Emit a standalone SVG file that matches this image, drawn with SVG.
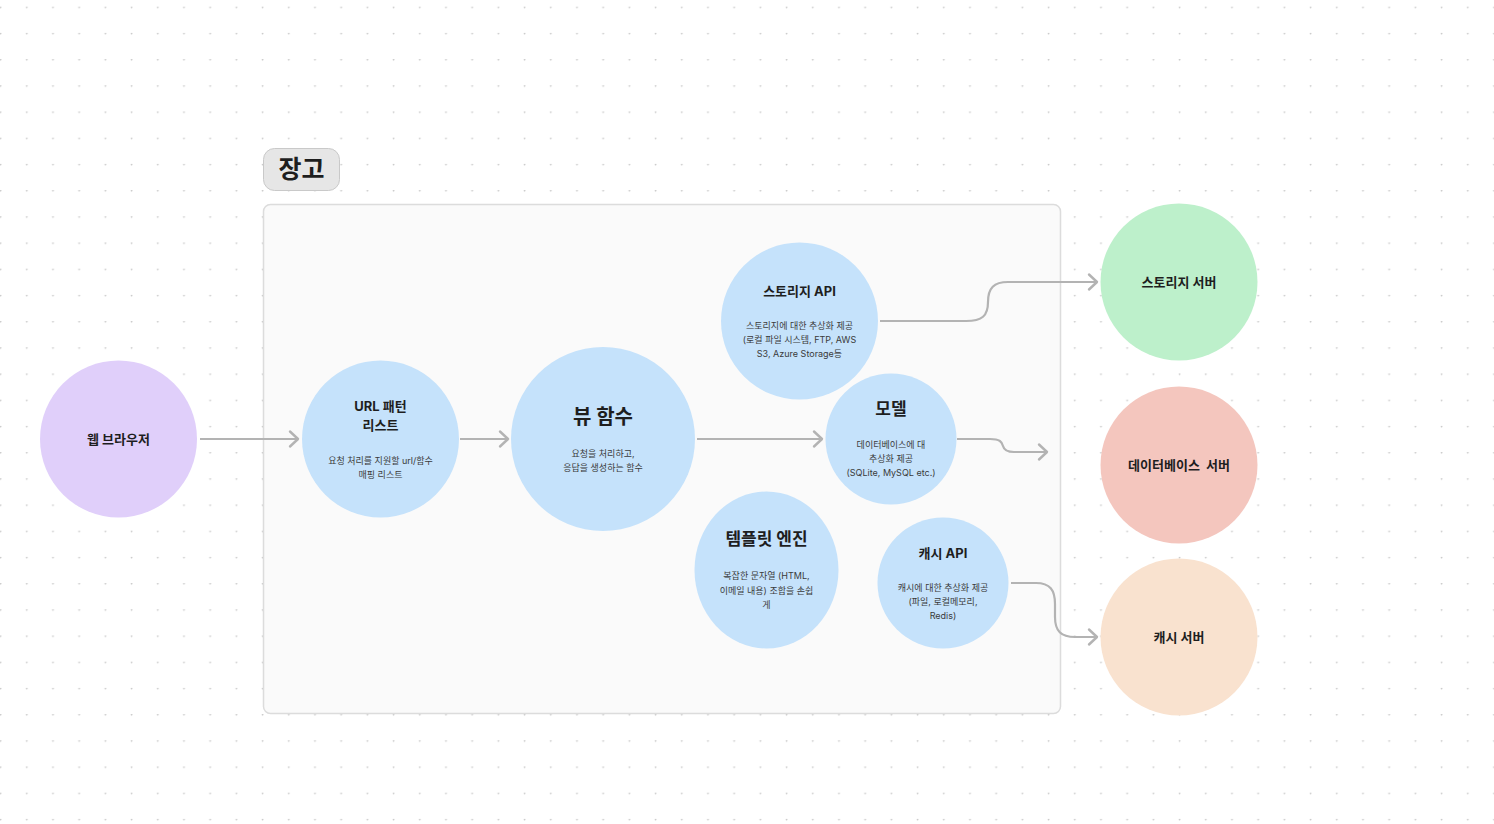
<svg xmlns="http://www.w3.org/2000/svg" width="1494" height="824" viewBox="0 0 1494 824">
<defs>
<pattern id="dots" x="0" y="6.7" width="26.2" height="26.2" patternUnits="userSpaceOnUse">
<circle cx="0.6" cy="0.6" r="0.9" fill="#c8c8c8"/>
<circle cx="26.8" cy="0.6" r="0.9" fill="#c8c8c8"/>
</pattern>
<marker id="arr" markerWidth="20" markerHeight="20" refX="0" refY="0" viewBox="-12 -10 14 20" markerUnits="userSpaceOnUse" orient="auto">
<path d="M-8,-7.5 L0,0 L-8,7.5" fill="none" stroke="#b3b3b3" stroke-width="2.4" stroke-linecap="round" stroke-linejoin="round"/>
</marker>
</defs>
<style>
text{font-family:Inter,"Noto Sans CJK KR","Noto Sans",sans-serif;text-anchor:middle;fill:#1e1e1e}
.t{font-weight:700;font-size:13px}
.tl{font-weight:700;font-size:17px}
.tx{font-weight:700;font-size:20px}
.d{font-size:9px;fill:#3a3a3a}
.inner{fill:#c5e2fb}
.edge{fill:none;stroke:#b3b3b3;stroke-width:2.2;marker-end:url(#arr)}
</style>
<rect width="1494" height="824" fill="#ffffff"/>
<rect width="1494" height="824" fill="url(#dots)"/>

<g id="django">
<rect x="263.5" y="148.5" width="76" height="42" rx="11" fill="#e6e6e6" stroke="#c9c9c9"/>
<text x="301.5" y="178" style="font-size:25px;font-weight:700">장고</text>
<rect x="263.5" y="204.5" width="797" height="509" rx="7" fill="#fafafa" stroke="#dcdcdc" stroke-width="1.5"/>
</g>

<g id="connectors">
<path class="edge" d="M200,439 H298"/>
<path class="edge" d="M460,439 H508"/>
<path class="edge" d="M697,439 H822"/>
<path class="edge" d="M880,321 H966 C982,321 988,316 988,302 C988,288 994,282 1008,282 H1097"/>
<path class="edge" d="M957,439 H990 C1000,439 1002,442 1003,446 C1004,450 1007,452 1014,452 H1047"/>
<path class="edge" d="M1011,583 H1036 C1050,583 1055,590 1055,604 V617 C1055,631 1061,637 1075,637 H1097"/>
</g>

<g id="browser">
<circle cx="118.5" cy="439" r="78.5" fill="#e0cffa"/>
<text class="t" x="118.5" y="443.5">웹 브라우저</text>
</g>

<g id="url">
<circle class="inner" cx="380.5" cy="439" r="78.5"/>
<text class="t" x="380.5" y="411">URL 패턴</text>
<text class="t" x="380.5" y="430">리스트</text>
<text class="d" x="380.5" y="464">요청 처리를 지원할 url/함수</text>
<text class="d" x="380.5" y="478">매핑 리스트</text>
</g>

<g id="view">
<circle class="inner" cx="603" cy="439" r="92"/>
<text class="tx" x="603" y="424">뷰 함수</text>
<text class="d" x="603" y="457">요청을 처리하고,</text>
<text class="d" x="603" y="471">응답을 생성하는 함수</text>
</g>

<g id="storage-api">
<circle class="inner" cx="799.5" cy="321" r="78.5"/>
<text class="t" x="799.5" y="296">스토리지 API</text>
<text class="d" x="799.5" y="329">스토리지에 대한 추상화 제공</text>
<text class="d" x="799.5" y="343">(로컬 파일 시스템, FTP, AWS</text>
<text class="d" x="799.5" y="357">S3, Azure Storage등</text>
</g>

<g id="model">
<circle class="inner" cx="891" cy="439" r="65.5"/>
<text class="tl" x="891" y="415">모델</text>
<text class="d" x="891" y="448">데이터베이스에 대</text>
<text class="d" x="891" y="462">추상화 제공</text>
<text class="d" x="891" y="476">(SQLite, MySQL etc.)</text>
</g>

<g id="template">
<ellipse class="inner" cx="766.5" cy="570" rx="72" ry="78.5"/>
<text class="tl" x="766.5" y="545">템플릿 엔진</text>
<text class="d" x="766.5" y="579">복잡한 문자열 (HTML,</text>
<text class="d" x="766.5" y="594">이메일 내용) 조합을 손쉽</text>
<text class="d" x="766.5" y="608">게</text>
</g>

<g id="cache-api">
<circle class="inner" cx="943" cy="583" r="65.5"/>
<text class="t" x="943" y="558">캐시 API</text>
<text class="d" x="943" y="591">캐시에 대한 추상화 제공</text>
<text class="d" x="943" y="605">(파일, 로컬메모리,</text>
<text class="d" x="943" y="619">Redis)</text>
</g>

<g id="storage-server">
<circle cx="1179" cy="282" r="78.5" fill="#bdf0cb"/>
<text class="t" x="1179" y="286.5">스토리지 서버</text>
</g>

<g id="db-server">
<circle cx="1179" cy="465" r="78.5" fill="#f4c6be"/>
<text class="t" x="1179" y="469.5" style="white-space:pre">데이터베이스  서버</text>
</g>

<g id="cache-server">
<circle cx="1179" cy="637" r="78.5" fill="#f9e2cf"/>
<text class="t" x="1179" y="641.5">캐시 서버</text>
</g>
</svg>
